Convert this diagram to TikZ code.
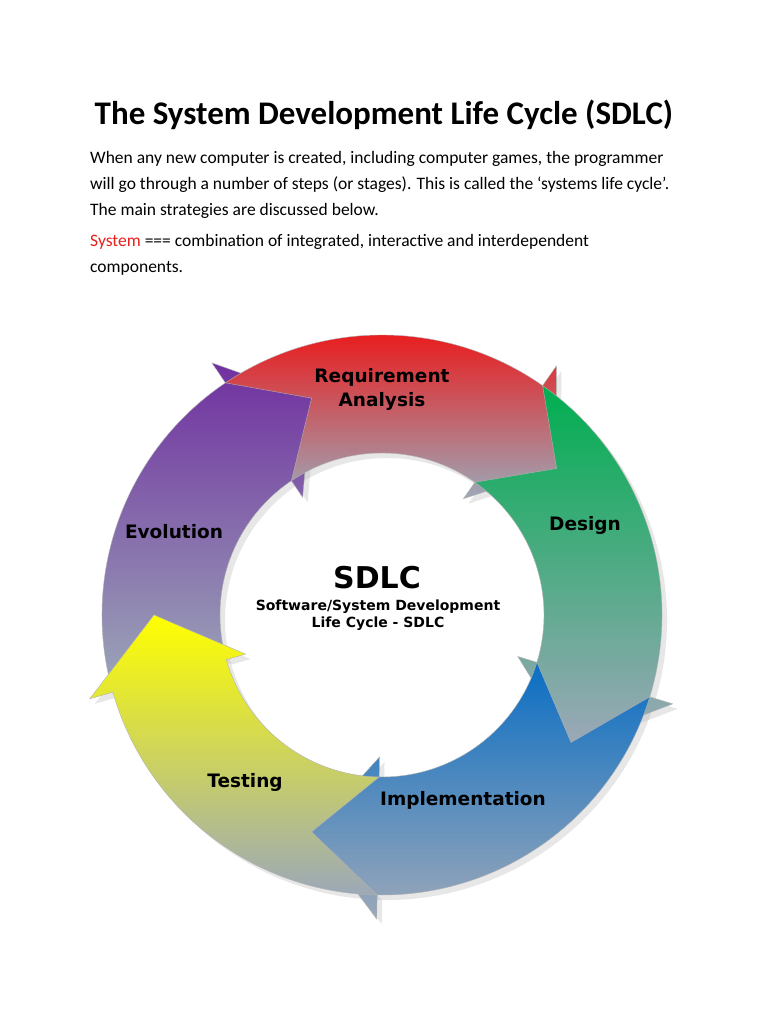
\documentclass[tikz,border=0pt]{standalone}
\usepackage{fontspec}
\setmainfont{Carlito}
\newfontfamily\lab{DejaVu Sans}
\definecolor{sred}{HTML}{F01010}
\definecolor{sgreen}{HTML}{00AE50}
\definecolor{sblue}{HTML}{0A6EC4}
\definecolor{syellow}{HTML}{FFFF00}
\definecolor{spurple}{HTML}{7030A0}
\definecolor{sgray}{HTML}{9CA8B8}
\definecolor{sysred}{HTML}{E8201A}
\newcommand\sdlcshape[4]{(#1:280) arc[start angle=#1,end angle=#3,radius=280] -- (#3:304) -- (#4:228) -- (#3:142) -- (#3:162) arc[start angle=#3,end angle=#1,radius=162] -- (#2:228) -- cycle}
\tikzset{ring/.style={draw=gray!60,line width=0.4pt},
 shadowfill/.style={fill=black!30,opacity=0.3},
 lbl/.style={font=\lab\bfseries\fontsize{18.5}{24}\selectfont,align=center},
 bodytxt/.style={anchor=base west,inner sep=0pt,font=\fontsize{17.5}{20}\selectfont}}
\begin{document}
\begin{tikzpicture}[x=1pt,y=1pt]
\useasboundingbox (0,0) rectangle (768,1024);
\fill[white] (0,0) rectangle (768,1024);
\node[font=\bfseries\fontsize{33}{36}\selectfont] (title) at (384,909) {The System Development Life Cycle (SDLC)};
\node[bodytxt] (l1) at (90,860) {When any new computer is created, including computer games, the programmer};
\node[bodytxt] (l2) at (90,834) {will go through a number of steps (or stages). This is called the ‘systems life cycle’.};
\node[bodytxt] (l3) at (90,808) {The main strategies are discussed below.};
\node[bodytxt] (l4) at (90,777) {\textcolor{sysred}{System} === combination of integrated, interactive and interdependent};
\node[bodytxt] (l5) at (90,751) {components.};
\begin{scope}[shift={(387,404)}]
\fill[shadowfill] \sdlcshape{124}{108}{55}{40};
\fill[shadowfill] \sdlcshape{55}{40}{-17}{-34};
\fill[shadowfill] \sdlcshape{-17}{-34}{-91}{-108};
\fill[shadowfill] \sdlcshape{-91}{-108}{-164}{-180};
\fill[shadowfill] \sdlcshape{-164}{-180}{-236}{-252};
\end{scope}
\begin{scope}[shift={(382,409)}]
\shade[top color=spurple,bottom color=sgray,ring] \sdlcshape{-164}{-180}{-236}{-252};
\shade[top color=sred,bottom color=sgray,ring] \sdlcshape{124}{108}{55}{40};
\shade[top color=sgreen,bottom color=sgray,ring] \sdlcshape{55}{40}{-17}{-34};
\shade[top color=sblue,bottom color=sgray,ring] \sdlcshape{-17}{-34}{-91}{-108};
\shade[top color=syellow,bottom color=sgray,ring] \sdlcshape{-91}{-108}{-164}{-180};
\end{scope}
\node[lbl] (req) at (382,635) {Requirement\\Analysis};
\node[lbl] (des) at (585,499) {Design};
\node[lbl] (evo) at (174,492) {Evolution};
\node[lbl] (tes) at (245,242) {Testing};
\node[lbl] (imp) at (463,224) {Implementation};
\node[font=\lab\bfseries\fontsize{30}{32}\selectfont] (sdlc) at (377,446) {SDLC};
\node[font=\lab\bfseries\fontsize{14}{17.5}\selectfont,align=center] (sub) at (378,409) {Software/System Development\\Life Cycle - SDLC};
\end{tikzpicture}
\end{document}
